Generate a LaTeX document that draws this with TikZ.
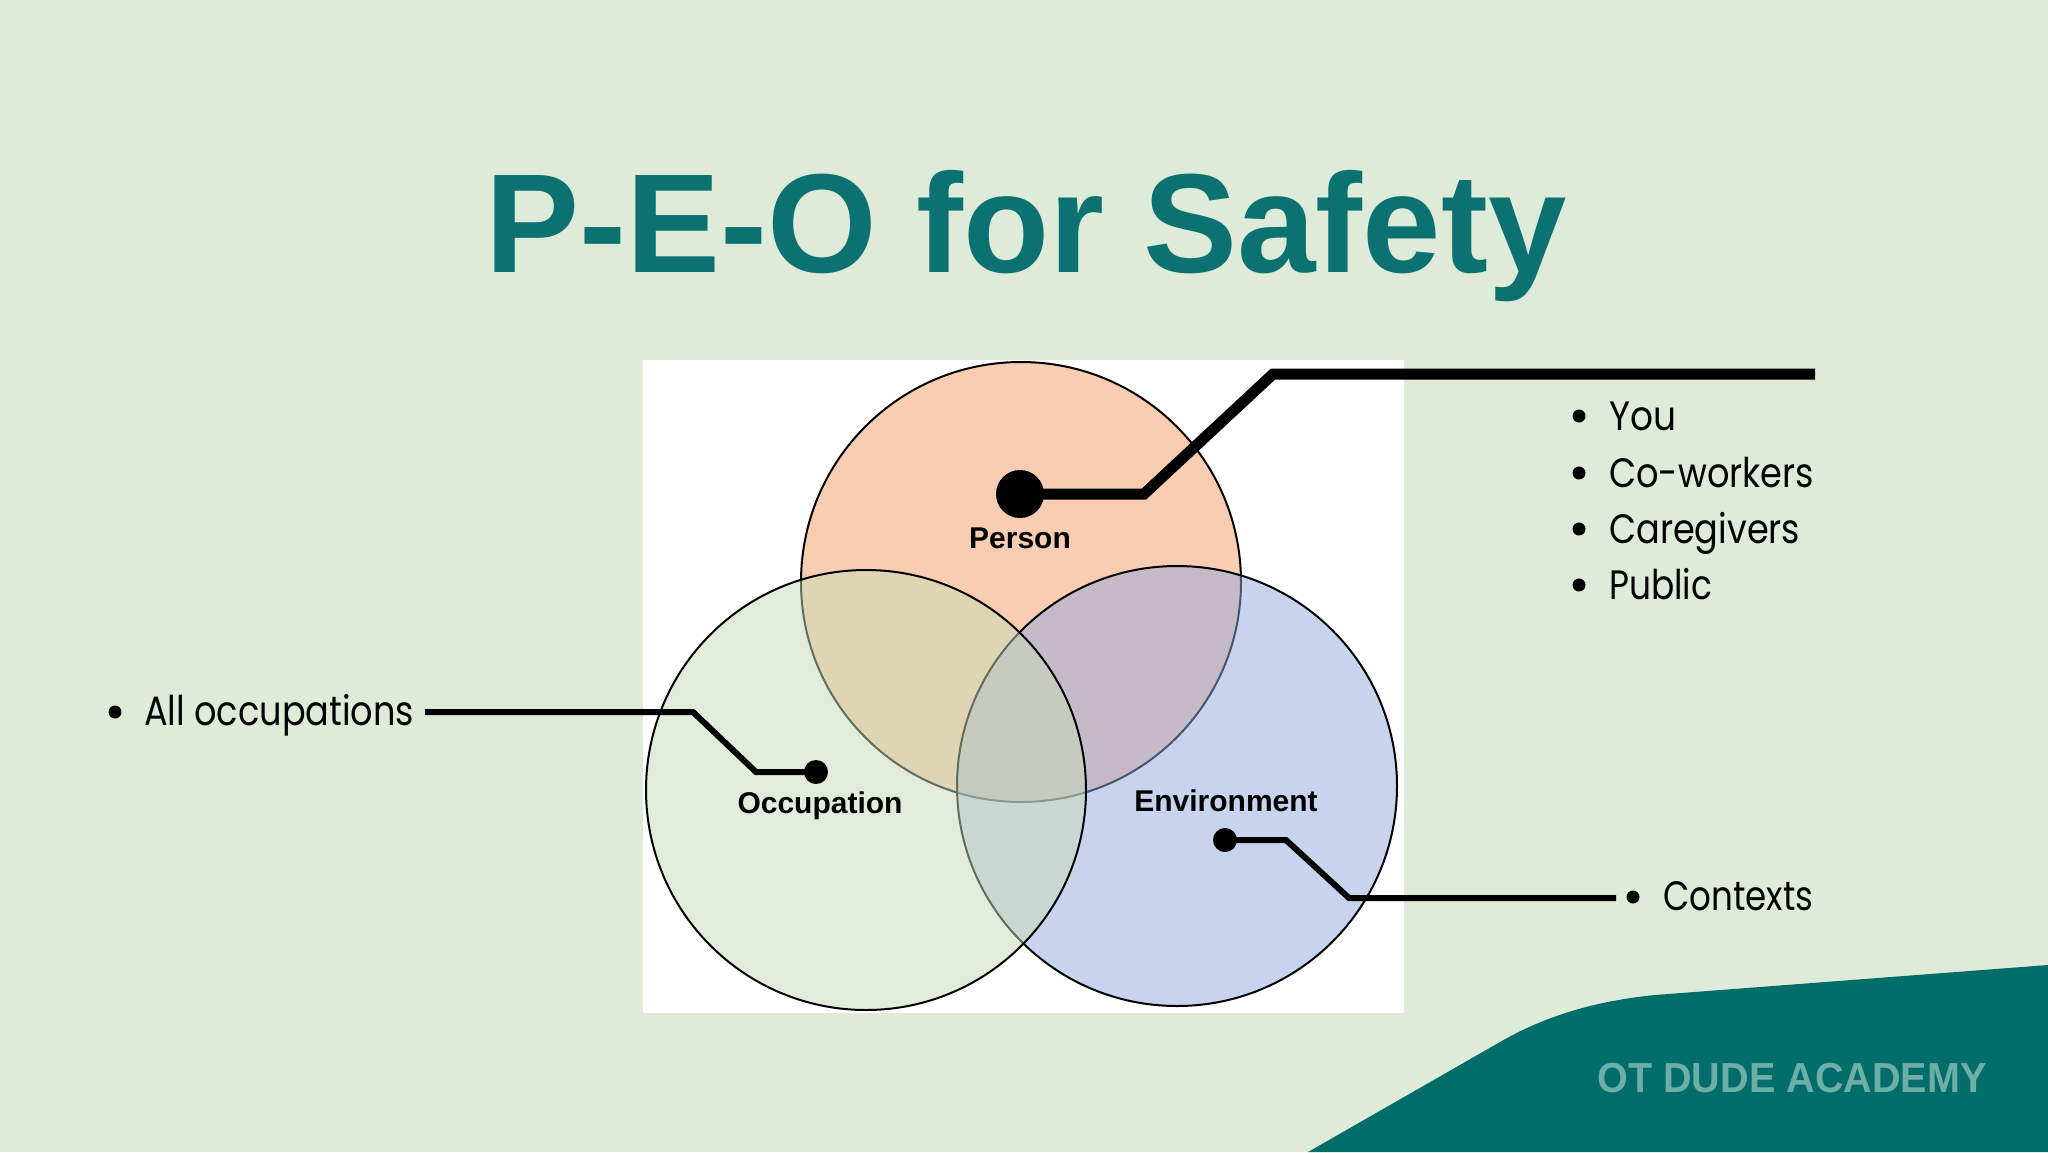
\documentclass[tikz,border=0pt]{standalone}
\usepackage{fontspec}
\usepackage{graphicx}
\setmainfont{Liberation Sans}
\newfontfamily\popfont{Poppins}
\definecolor{bgc}{HTML}{DFEBD9}
\definecolor{titlec}{HTML}{0B7271}
\definecolor{tealc}{HTML}{006D6B}
\definecolor{brandc}{HTML}{6DAEA6}
\definecolor{personc}{HTML}{F8CDB1}
\definecolor{envc}{HTML}{93ABDF}
\definecolor{occc}{HTML}{C7DBB7}
\newcommand{\bultext}[2]{\resizebox{#1pt}{\height}{\popfont\fontsize{41}{41}\selectfont #2}}
\begin{document}
\begin{tikzpicture}[x=1pt,y=-1pt,
  venn/.style={circle,draw=black,line width=2pt,inner sep=0pt,minimum size=440pt},
  lbl/.style={font=\fontsize{30}{30}\selectfont\bfseries,anchor=base,inner sep=0pt},
  dotbig/.style={circle,fill=black,inner sep=0pt,minimum size=48pt},
  dotsm/.style={circle,fill=black,inner sep=0pt,minimum size=24pt},
  bul/.style={circle,fill=black,inner sep=0pt,minimum size=13pt},
  btxt/.style={anchor=base west,inner sep=0pt},
  connthick/.style={line width=11pt,line join=miter},
  connthin/.style={line width=6pt,line join=miter}]
\useasboundingbox (0,0) rectangle (2048,1152);
\fill[bgc] (0,0) rectangle (2048,1152);
% teal corner
\fill[tealc] (2048,965) -- (1655,995) .. controls (1595,1001) and (1545,1016) .. (1500,1042) -- (1308,1152) -- (2048,1152) -- cycle;
\node[anchor=base,inner sep=0pt,text=brandc] (brand) at (1792,1092)
  {\resizebox{389pt}{\height}{\fontsize{42}{42}\selectfont\bfseries OT DUDE ACADEMY}};
% title
\node[anchor=base,inner sep=0pt,text=titlec,font=\fontsize{141}{141}\selectfont\bfseries] (title) at (1026,272) {P-E-O for Safety};
% white panel
\fill[white] (643,360) rectangle (1404,1013);
% circles
\node[venn,fill=personc] (person) at (1021,582) {};
\node[venn,fill=envc,fill opacity=0.5] (env) at (1177,786) {};
\node[venn,fill=occc,fill opacity=0.5] (occ) at (866,790) {};
% labels
\node[lbl] (plbl) at (1020,548) {Person};
\node[lbl] (olbl) at (820,813) {Occupation};
\node[lbl] (elbl) at (1226,811) {Environment};
% person connector
\node[dotbig] (pdot) at (1020,494) {};
\coordinate (pb1) at (1144,494);
\coordinate (pb2) at (1273,374);
\coordinate (pend) at (1815,374);
\draw[connthick] (pdot.center) -- (pb1) -- (pb2) -- (pend);
% occupation connector
\node[dotsm] (odot) at (816,772) {};
\coordinate (ob1) at (756,772);
\coordinate (ob2) at (693,712);
\coordinate (oend) at (425,712);
\draw[connthin] (odot.center) -- (ob1) -- (ob2) -- (oend);
% environment connector
\node[dotsm] (edot) at (1225,840) {};
\coordinate (eb1) at (1286,840);
\coordinate (eb2) at (1349,898);
\coordinate (eend) at (1616,898);
\draw[connthin] (edot.center) -- (eb1) -- (eb2) -- (eend);
% bullet list right
\node[bul] (b1) at (1579,416) {};
\node[btxt] (t1) at (1609,430) {\bultext{67}{You}};
\node[bul] (b2) at (1579,473) {};
\node[btxt] (t2) at (1609,487) {\bultext{205}{Co-workers}};
\node[bul] (b3) at (1579,529) {};
\node[btxt] (t3) at (1609,543) {\bultext{191}{Caregivers}};
\node[bul] (b4) at (1579,585) {};
\node[btxt] (t4) at (1609,599) {\bultext{103}{Public}};
% left bullet
\node[bul] (b5) at (115,712) {};
\node[btxt] (t5) at (144,725) {\bultext{270}{All occupations}};
% contexts bullet
\node[bul] (b6) at (1633,897) {};
\node[btxt] (t6) at (1663,910) {\bultext{150}{Contexts}};
\end{tikzpicture}
\end{document}
